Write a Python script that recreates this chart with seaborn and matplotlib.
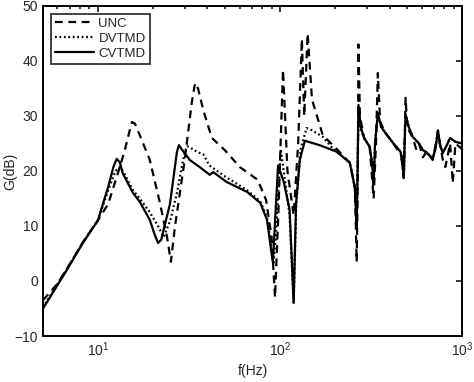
import numpy as np
import pandas as pd
import matplotlib
matplotlib.use("Agg")
import matplotlib.pyplot as plt
import seaborn as sns

# ------------------------------
# Data
# ------------------------------

unc_f = [5, 6, 7, 8.27, 10, 11.4, 13, 14, 15, 15.4, 16, 17, 19.3, 22, 24, 25.2, 26.5, 30,
         32.8, 34, 34.5, 35.5, 38, 42.3, 49.8, 60.3, 75.5, 84, 90, 94, 98, 104, 110, 119,
         126, 132, 136, 142, 150, 172, 205, 242, 258, 264, 268, 270, 275, 290, 311, 327,
         337, 345, 355, 378, 420, 469, 479, 490, 500, 537, 560, 580, 610, 641, 690, 737,
         785, 810, 860, 890, 920, 1000]
unc_g = [-3.5, -0.5, 3, 7, 11, 14, 20, 23.5, 27.5, 28.9, 28.6, 26.5, 22, 14, 8, 3.5, 9.8,
         22, 32.4, 35.5, 36, 35, 31, 26, 23.8, 20.7, 18.4, 14.7, 8, -3, 12, 38.4, 20, 12,
         25, 44, 30, 45, 33, 26.5, 24, 21.5, 17, 3.5, 20, 43, 30, 26, 24.4, 15,
         25, 37.8, 29, 27, 25, 22.6, 19, 33.3, 28, 26, 24, 25, 22.5, 23.5, 22, 27,
         22, 20.7, 25, 17.8, 25, 24]

dv_f = [5, 6.76, 8.27, 10, 11.4, 12.5, 13.2, 14, 15.6, 17, 19.3, 21.4, 23, 25, 27.2, 29,
        30.3, 31, 32, 35, 38, 41, 50, 66, 78, 85, 90, 92, 95, 101, 107, 113, 119, 123, 130,
        140, 150, 172, 190, 205, 242, 258, 264, 270, 278, 290, 311, 322, 327, 333, 345,
        360, 378, 420, 460, 475, 479, 484, 490, 510, 537, 580, 610, 641, 690, 715, 737,
        760, 785, 820, 860, 920, 1000]
dv_g = [-4.8, 2.2, 7, 11, 16.5, 20, 20.7, 19.5, 16.5, 15, 12.5, 10, 8, 11, 16, 21,
        23.8, 24.5, 24.3, 23.5, 23, 21, 19, 16.5, 14.5, 11.5, 6, 3, 8, 24, 18, 12, -4, 14, 24,
        27.8, 27.4, 26.2, 24.5, 23.5, 21.5, 17, 10.5, 31, 27.5, 26, 24.4, 21, 17.5, 25, 30.5,
        28, 27, 25, 23.5, 20, 18.7, 25, 30.2, 28, 26.2, 25, 23.8, 23.3, 22.3, 24, 27.4,
        24.5, 23.3, 24.5, 26, 25.3, 25]

cv_f = [5, 6.76, 8.27, 10, 11.4, 12.2, 12.7, 13.2, 13.7, 15.6, 17, 19.3, 20.5, 21.4, 22.3,
        24.9, 27.2, 27.9, 28.8, 32, 36.3, 41.2, 43, 51, 66, 78, 85, 90, 91.5, 97.7, 105,
        113, 119, 122.6, 128.6, 137, 165, 205, 242, 258, 262, 264, 267, 270, 278, 290,
        311, 322, 327, 333, 345, 360, 378, 420, 460, 475, 479, 484, 490, 510, 537, 580,
        610, 641, 690, 715, 737, 760, 785, 820, 860, 920, 1000]
cv_g = [-5, 2, 6.9, 11, 17.1, 20.8, 22.2, 21.6, 19.6, 16, 14.4, 11.1, 8.5, 6.9, 7.5,
        14, 23.5, 24.7, 24, 22, 20.7, 19.3, 19.8, 18, 16.2, 14.2, 11.1, 5, 3.5, 21, 18,
        13, -4, 14, 22, 25.5, 24.7, 23.5, 21.5, 17, 12, 9.8, 20, 32, 28, 26,
        24.4, 21, 17.5, 25, 30.5, 28, 27, 25, 23.5, 20, 18.7, 25, 30.2, 28, 26.2, 25,
        23.8, 23.3, 22.3, 24, 27.4, 24.5, 23.3, 24.5, 26, 25.3, 25]

y_ticks = [-10, 0, 10, 20, 30, 40, 50]

df = pd.concat([
    pd.DataFrame({"f": unc_f, "G": unc_g, "case": "UNC"}),
    pd.DataFrame({"f": dv_f, "G": dv_g, "case": "DVTMD"}),
    pd.DataFrame({"f": cv_f, "G": cv_g, "case": "CVTMD"}),
])

# ------------------------------
# Plot
# ------------------------------

sns.set_style("white")
plt.rcParams['font.family'] = ['Liberation Sans', 'DejaVu Sans']
plt.rcParams['mathtext.fontset'] = 'custom'
plt.rcParams['mathtext.rm'] = 'Liberation Sans'
plt.rcParams['font.size'] = 10

fig = plt.figure(figsize=(4.74, 3.82), dpi=100)
ax = fig.add_axes([0.0907, 0.1204, 0.884, 0.864])

styles = {"UNC": (0, (3.5, 2.5)), "DVTMD": (0, (0.8, 1.2)), "CVTMD": "-"}
for name in ["UNC", "DVTMD", "CVTMD"]:
    sns.lineplot(data=df[df["case"] == name], x="f", y="G", ax=ax, color="black",
                 linewidth=1.6, linestyle=styles[name], label=name,
                 errorbar=None, estimator=None, sort=False)

ax.set_xscale("log")
ax.set_xlim(5, 1000)
ax.set_ylim(-10, 50)
ax.set_yticks(y_ticks)
ax.set_xlabel("f(Hz)", fontsize=10, labelpad=3)
ax.set_ylabel("G(dB)", fontsize=10)
ax.yaxis.set_label_coords(-0.062, 0.5)

for s in ax.spines.values():
    s.set_visible(True)
    s.set_color("black")
    s.set_linewidth(1.4)
ax.tick_params(which="both", direction="in", top=True, right=True, color="black",
               labelsize=10, width=1.1)
ax.tick_params(which="major", length=4, pad=3.5)
ax.tick_params(which="minor", length=2.5)

leg = ax.legend(loc="upper left", fontsize=9.5, frameon=True, fancybox=False,
                edgecolor="black", handlelength=3.0, labelspacing=0.2,
                borderaxespad=0.6, handletextpad=0.3, borderpad=0.3)
leg.get_frame().set_linewidth(1.3)

plt.savefig("out.png", dpi=100)
